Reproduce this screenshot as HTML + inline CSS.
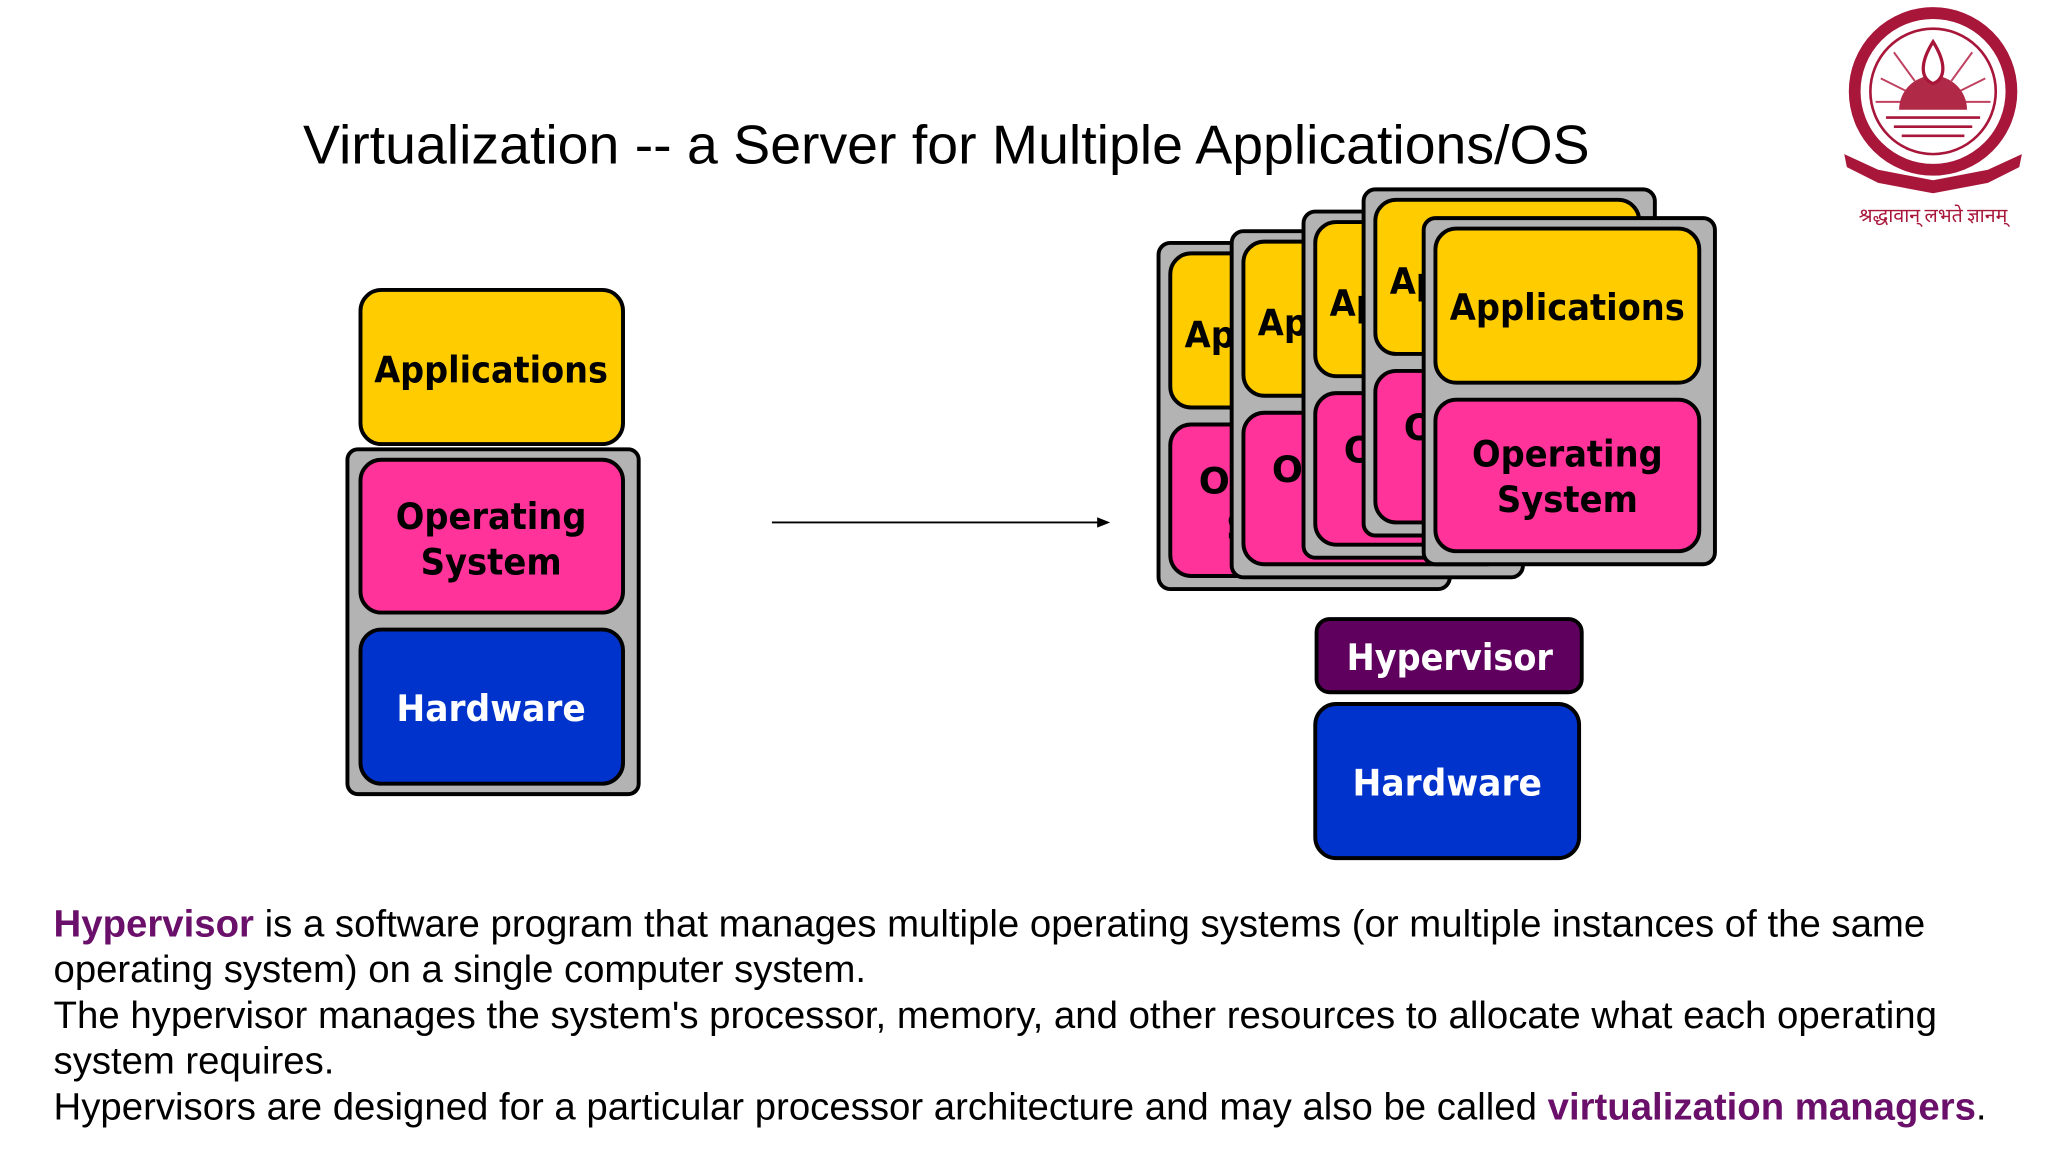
<!DOCTYPE html>
<html><head><meta charset="utf-8"><style>
html,body{margin:0;padding:0;background:#fff;width:2048px;height:1152px;overflow:hidden}
svg{display:block}
.b{font-family:"DejaVu Sans",sans-serif;font-weight:bold;font-size:28px;text-anchor:middle}
.t{font-family:"Liberation Sans",sans-serif;font-size:29px;fill:#000}
</style></head><body>
<svg width="2048" height="1152" viewBox="0 0 1568 882" xmlns="http://www.w3.org/2000/svg">
<rect width="1568" height="882" fill="#fff"/>
<text x="232" y="125" font-family="Liberation Sans, sans-serif" font-size="42" textLength="985" lengthAdjust="spacingAndGlyphs">Virtualization -- a Server for Multiple Applications/OS</text>

<!-- left stack -->
<rect x="276" y="222" width="201" height="118" rx="16" fill="#ffcc00" stroke="#000" stroke-width="3"/>
<text class="b" x="376" y="293" textLength="179" lengthAdjust="spacingAndGlyphs">Applications</text>
<rect x="266" y="344" width="223" height="264" rx="8" fill="#b3b3b3" stroke="#000" stroke-width="3"/>
<rect x="276" y="352" width="201" height="117" rx="16" fill="#ff3399" stroke="#000" stroke-width="3"/>
<text class="b" x="376" y="405" textLength="146" lengthAdjust="spacingAndGlyphs">Operating</text>
<text class="b" x="376" y="440" textLength="108" lengthAdjust="spacingAndGlyphs">System</text>
<rect x="276" y="482" width="201" height="118" rx="16" fill="#0033cc" stroke="#000" stroke-width="3"/>
<text class="b" x="376" y="552" fill="#fff" textLength="145" lengthAdjust="spacingAndGlyphs">Hardware</text>

<!-- arrow -->
<line x1="591" y1="400" x2="842" y2="400" stroke="#000" stroke-width="1.5"/>
<polygon points="850,400 840,396 840,404" fill="#000"/>

<!-- cards -->
<g transform="translate(887,186)">
<rect x="0" y="0" width="223" height="265" rx="9" fill="#b3b3b3" stroke="#000" stroke-width="3"/>
<rect x="9" y="8" width="202" height="118" rx="16" fill="#ffcc00" stroke="#000" stroke-width="3"/>
<text class="b" x="110" y="80" textLength="180" lengthAdjust="spacingAndGlyphs">Applications</text>
<rect x="9" y="139" width="202" height="116" rx="16" fill="#ff3399" stroke="#000" stroke-width="3"/>
<text class="b" x="110" y="192">Operating</text><text class="b" x="110" y="227">System</text>
</g>
<g transform="translate(943,177)">
<rect x="0" y="0" width="223" height="265" rx="9" fill="#b3b3b3" stroke="#000" stroke-width="3"/>
<rect x="9" y="8" width="202" height="118" rx="16" fill="#ffcc00" stroke="#000" stroke-width="3"/>
<text class="b" x="110" y="80" textLength="180" lengthAdjust="spacingAndGlyphs">Applications</text>
<rect x="9" y="139" width="202" height="116" rx="16" fill="#ff3399" stroke="#000" stroke-width="3"/>
<text class="b" x="110" y="192">Operating</text><text class="b" x="110" y="227">System</text>
</g>
<g transform="translate(998,162)">
<rect x="0" y="0" width="223" height="265" rx="9" fill="#b3b3b3" stroke="#000" stroke-width="3"/>
<rect x="9" y="8" width="202" height="118" rx="16" fill="#ffcc00" stroke="#000" stroke-width="3"/>
<text class="b" x="110" y="80" textLength="180" lengthAdjust="spacingAndGlyphs">Applications</text>
<rect x="9" y="139" width="202" height="116" rx="16" fill="#ff3399" stroke="#000" stroke-width="3"/>
<text class="b" x="110" y="192">Operating</text><text class="b" x="110" y="227">System</text>
</g>
<g transform="translate(1044,145)">
<rect x="0" y="0" width="223" height="265" rx="9" fill="#b3b3b3" stroke="#000" stroke-width="3"/>
<rect x="9" y="8" width="202" height="118" rx="16" fill="#ffcc00" stroke="#000" stroke-width="3"/>
<text class="b" x="110" y="80" textLength="180" lengthAdjust="spacingAndGlyphs">Applications</text>
<rect x="9" y="139" width="202" height="116" rx="16" fill="#ff3399" stroke="#000" stroke-width="3"/>
<text class="b" x="110" y="192">Operating</text><text class="b" x="110" y="227">System</text>
</g>
<g transform="translate(1090,167)">
<rect x="0" y="0" width="223" height="265" rx="9" fill="#b3b3b3" stroke="#000" stroke-width="3"/>
<rect x="9" y="8" width="202" height="118" rx="16" fill="#ffcc00" stroke="#000" stroke-width="3"/>
<text class="b" x="110" y="78" textLength="180" lengthAdjust="spacingAndGlyphs">Applications</text>
<rect x="9" y="139" width="202" height="116" rx="16" fill="#ff3399" stroke="#000" stroke-width="3"/>
<text class="b" x="110" y="190" textLength="146" lengthAdjust="spacingAndGlyphs">Operating</text>
<text class="b" x="110" y="225" textLength="108" lengthAdjust="spacingAndGlyphs">System</text>
</g>

<rect x="1008" y="474" width="203" height="56" rx="10" fill="#5f005f" stroke="#000" stroke-width="3"/>
<text class="b" x="1110" y="513" fill="#fff" textLength="158" lengthAdjust="spacingAndGlyphs">Hypervisor</text>
<rect x="1007" y="539" width="202" height="118" rx="16" fill="#0033cc" stroke="#000" stroke-width="3"/>
<text class="b" x="1108" y="609" fill="#fff" textLength="145" lengthAdjust="spacingAndGlyphs">Hardware</text>

<!-- logo -->
<g transform="translate(1480,70)">
<circle r="60" fill="none" stroke="#a8163a" stroke-width="9"/>
<circle r="48" fill="none" stroke="#a8163a" stroke-width="2"/>
<g stroke="#c04060" stroke-width="1.5">
<line x1="-40" y1="-10" x2="-20" y2="0"/><line x1="40" y1="-10" x2="20" y2="0"/>
<line x1="-30" y1="-30" x2="-14" y2="-8"/><line x1="30" y1="-30" x2="14" y2="-8"/>
<line x1="-44" y1="8" x2="-24" y2="8"/><line x1="44" y1="8" x2="24" y2="8"/>
</g>
<path d="M-26,14 A26,26 0 0 1 26,14 Z" fill="#b02a48"/>
<path d="M0,-38 C-10,-22 -10,-10 0,-6 C10,-10 10,-22 0,-38Z" fill="#fff" stroke="#a8163a" stroke-width="2.5"/>
<line x1="-36" y1="20" x2="36" y2="20" stroke="#a8163a" stroke-width="2"/>
<line x1="-30" y1="27" x2="30" y2="27" stroke="#a8163a" stroke-width="2"/>
<line x1="-24" y1="34" x2="24" y2="34" stroke="#a8163a" stroke-width="2"/>
<path d="M-68,48 L-42,60 L0,68 L42,60 L68,48 L66,58 L42,70 L0,78 L-42,70 L-66,58Z" fill="#a8163a"/>
</g>
<text x="1480" y="170" text-anchor="middle" font-family="Noto Sans CJK SC, sans-serif" font-size="15" fill="#a8163a">श्रद्धावान् लभते ज्ञानम्</text>

<!-- body text -->
<text class="t" x="41" y="717" textLength="1433" lengthAdjust="spacingAndGlyphs"><tspan font-weight="bold" fill="#6a0f6a">Hypervisor</tspan> is a software program that manages multiple operating systems (or multiple instances of the same</text>
<text class="t" x="41" y="752" textLength="622" lengthAdjust="spacingAndGlyphs">operating system) on a single computer system.</text>
<text class="t" x="41" y="787" textLength="1442" lengthAdjust="spacingAndGlyphs">The hypervisor manages the system's processor, memory, and other resources to allocate what each operating</text>
<text class="t" x="41" y="822" textLength="215" lengthAdjust="spacingAndGlyphs">system requires.</text>
<text class="t" x="41" y="857" textLength="1480" lengthAdjust="spacingAndGlyphs">Hypervisors are designed for a particular processor architecture and may also be called <tspan font-weight="bold" fill="#6a0f6a">virtualization managers</tspan>.</text>
</svg>
</body></html>
